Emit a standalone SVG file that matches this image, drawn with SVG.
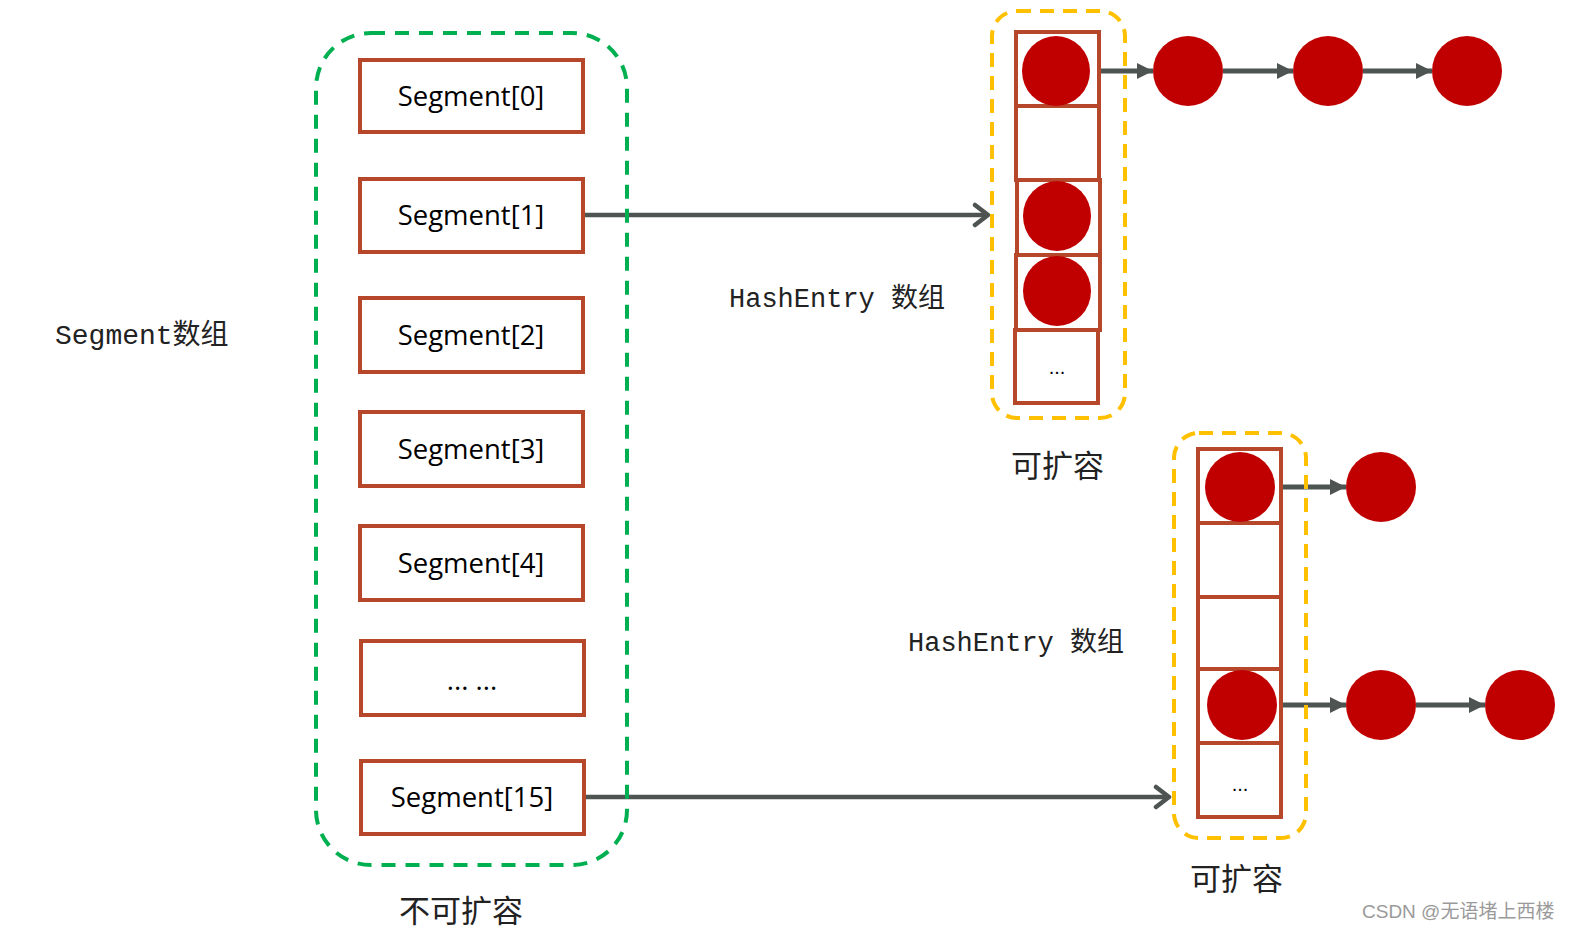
<svg xmlns="http://www.w3.org/2000/svg" width="1573" height="933" viewBox="0 0 1573 933">
<style>
.seg{fill:#fff;stroke:#b7472a;stroke-width:4}
.segt{font-family:"Open Sans","Liberation Sans",sans-serif;font-size:27.5px;fill:#000;text-anchor:middle}
.cell{fill:#fff;stroke:#b7472a;stroke-width:4}
.ent{fill:#c00000}
.green{fill:none;stroke:#00b050;stroke-width:4;stroke-dasharray:14 10}
.yel{fill:none;stroke:#ffc000;stroke-width:4;stroke-dasharray:14 9}
.lbl{font-family:"Liberation Mono","Noto Sans CJK SC",monospace;fill:#222}
.cjk{font-family:"Noto Sans CJK SC",sans-serif;fill:#222;font-size:31px}
.dots{font-family:"Liberation Sans",sans-serif;font-size:20px;fill:#000;text-anchor:middle}
.big{stroke:#4d5451;stroke-width:4.5;fill:none}
.small{stroke:#4d5451;stroke-width:5;fill:none}
</style>
<defs>
<marker id="tri" markerUnits="userSpaceOnUse" markerWidth="18" markerHeight="18" refX="16" refY="9" orient="auto"><path d="M0,1 L16,9 L0,17 z" fill="#4d5451"/></marker>
<marker id="chev" markerUnits="userSpaceOnUse" markerWidth="26" markerHeight="26" refX="21" refY="13" orient="auto"><path d="M8,3 L21,13 L8,23" fill="none" stroke="#4d5451" stroke-width="4.5" stroke-linecap="round" stroke-linejoin="round"/></marker>
</defs>
<rect width="1573" height="933" fill="#fff"/>

<g id="connectors">
<line class="big" x1="585" y1="215" x2="988" y2="215" marker-end="url(#chev)"/>
<line class="big" x1="585" y1="797" x2="1169" y2="797" marker-end="url(#chev)"/>
<line class="small" x1="1092" y1="71" x2="1153" y2="71" marker-end="url(#tri)"/>
<line class="small" x1="1223" y1="71" x2="1293" y2="71" marker-end="url(#tri)"/>
<line class="small" x1="1363" y1="71" x2="1432" y2="71" marker-end="url(#tri)"/>
<line class="small" x1="1275" y1="487" x2="1346" y2="487" marker-end="url(#tri)"/>
<line class="small" x1="1277" y1="705" x2="1346" y2="705" marker-end="url(#tri)"/>
<line class="small" x1="1416" y1="705" x2="1485" y2="705" marker-end="url(#tri)"/>
</g>

<g id="segment-array">
<rect class="green" x="316" y="33" width="311" height="832" rx="55"/>
<g id="seg0"><rect class="seg" x="360" y="60" width="223" height="72"/><text class="segt" x="471" y="106">Segment[0]</text></g>
<g id="seg1"><rect class="seg" x="360" y="179" width="223" height="73"/><text class="segt" x="471" y="225">Segment[1]</text></g>
<g id="seg2"><rect class="seg" x="360" y="298" width="223" height="74"/><text class="segt" x="471" y="345">Segment[2]</text></g>
<g id="seg3"><rect class="seg" x="360" y="412" width="223" height="74"/><text class="segt" x="471" y="459">Segment[3]</text></g>
<g id="seg4"><rect class="seg" x="360" y="526" width="223" height="74"/><text class="segt" x="471" y="573">Segment[4]</text></g>
<g id="segdots"><rect class="seg" x="361" y="641" width="223" height="74"/><text class="segt" x="472" y="690">... ...</text></g>
<g id="seg15"><rect class="seg" x="361" y="761" width="223" height="73"/><text class="segt" x="472" y="807">Segment[15]</text></g>
</g>

<g id="hash-array-1">
<rect class="yel" x="992" y="11" width="133" height="407" rx="25"/>
<rect class="cell" x="1016" y="32" width="83" height="74"/>
<rect class="cell" x="1016" y="106" width="83" height="74"/>
<rect class="cell" x="1017" y="180" width="83" height="75"/>
<rect class="cell" x="1016" y="255" width="84" height="75"/>
<rect class="cell" x="1015" y="330" width="83" height="73"/>
<ellipse class="ent" cx="1056" cy="71" rx="34" ry="35"/>
<ellipse class="ent" cx="1057" cy="216" rx="34" ry="35"/>
<ellipse class="ent" cx="1057" cy="291" rx="34" ry="35"/>
<text class="dots" x="1057" y="374">...</text>
</g>
<g id="entry-1a"><circle class="ent" cx="1188" cy="71" r="35"/></g>
<g id="entry-1b"><circle class="ent" cx="1328" cy="71" r="35"/></g>
<g id="entry-1c"><circle class="ent" cx="1467" cy="71" r="35"/></g>

<g id="hash-array-2">
<rect class="yel" x="1174" y="433" width="132" height="405" rx="25"/>
<rect class="cell" x="1198" y="449" width="83" height="74"/>
<rect class="cell" x="1198" y="523" width="83" height="74"/>
<rect class="cell" x="1198" y="597" width="83" height="72"/>
<rect class="cell" x="1198" y="669" width="83" height="74"/>
<rect class="cell" x="1198" y="743" width="83" height="74"/>
<circle class="ent" cx="1240" cy="487" r="35"/>
<circle class="ent" cx="1242" cy="705" r="35"/>
<text class="dots" x="1240" y="791">...</text>
</g>
<g id="entry-2a"><circle class="ent" cx="1381" cy="487" r="35"/></g>
<g id="entry-2b"><circle class="ent" cx="1381" cy="705" r="35"/></g>
<g id="entry-2c"><circle class="ent" cx="1520" cy="705" r="35"/></g>

<g id="labels">
<text class="lbl" x="55" y="344" font-size="28">Segment数组</text>
<text class="lbl" x="729" y="307" font-size="27">HashEntry 数组</text>
<text class="lbl" x="908" y="651" font-size="27">HashEntry 数组</text>
<text class="cjk" x="1011" y="477">可扩容</text>
<text class="cjk" x="1190" y="890">可扩容</text>
<text class="cjk" x="399" y="922">不可扩容</text>
<text x="1362" y="918" font-family="Liberation Sans,Noto Sans CJK SC,sans-serif" font-size="19" fill="#9a9a9a">CSDN @无语堵上西楼</text>
</g>
</svg>
